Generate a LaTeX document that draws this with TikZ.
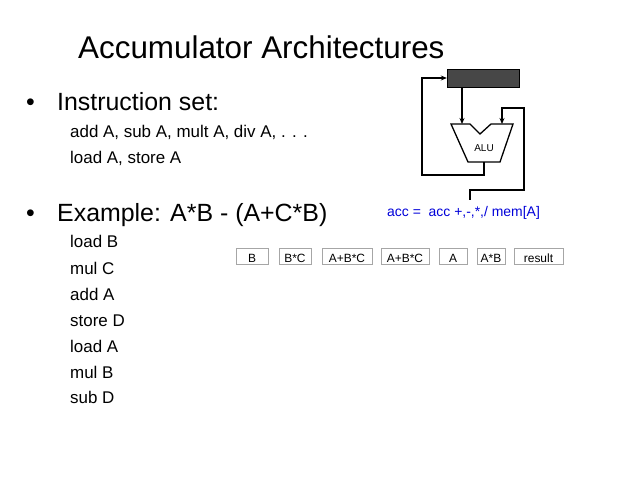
\documentclass[tikz,border=0pt]{standalone}
\usepackage{fontspec}
\setmainfont{Liberation Sans}
\usetikzlibrary{arrows.meta}
\begin{document}
\begin{tikzpicture}[x=1bp,y=-1bp,
  wire/.style={line width=1.3pt},
  arr/.style={wire,-{Stealth[length=6bp,width=5bp]}},
  sub/.style={anchor=base west,inner sep=0pt,font=\fontsize{17}{19}\selectfont},
  big/.style={anchor=base west,inner sep=0pt,font=\fontsize{25}{27}\selectfont}]
\useasboundingbox (0,0) rectangle (638,478);
\node[anchor=west,font=\fontsize{31.5}{33}\selectfont,inner sep=0pt] (title) at (78,47) {Accumulator Architectures};
\node[big] (d1) at (26,111) {•};
\node[big] (b1) at (57,111) {Instruction set:};
\node[sub] (s1) at (70,138) {add A, sub A, mult A, div A, . . .};
\node[sub] (s2) at (70,164) {load A, store A};
\node[big] (d2) at (26,222) {•};
\node[big] (b2) at (57,222) {Example: A*B - (A+C*B)};
\foreach \t/\y in {load B/248,mul C/274,add A/300,store D/326,load A/352,mul B/378,sub D/403}
  \node[sub] at (70,\y) {\t};
\node[anchor=west,inner sep=0pt,text=blue!85!black,font=\fontsize{14}{16}\selectfont] (acc) at (387,213) {acc =\ \ acc +,-,*,/ mem[A]};
% register
\node[draw,fill=black!72,minimum width=72bp,minimum height=18bp,inner sep=0pt] (reg) at (483,78) {};
% ALU
\draw[wire] (451,124) -- (470,124) -- (480,134) -- (491,124) -- (513,124) -- (500,162) -- (468,162) -- cycle;
\node[font=\fontsize{10}{11}\selectfont] (alu) at (484,148) {ALU};
\coordinate (ain1) at (462,124);
\coordinate (ain2) at (502,124);
\coordinate (aout) at (484,162);
\coordinate (mem) at (470,200);
\draw[arr] (reg.south -| ain1) -- (ain1);
\draw[arr] (mem) -- (470,190) -- (524,190) -- (524,108) -- (502,108) -- (ain2);
\draw[arr] (aout) -- (484,175) -- (422,175) -- (422,78) -- (reg.west);
% cells
\foreach \t/\a/\b in {B/236/268,B*C/279/311,A+B*C/322/372,A+B*C/381/429,A/439/467,A*B/477/505,result/514/563}
  \draw[gray!70,line width=0.5pt] (\a,248) rectangle (\b,264) node[midway,yshift=-2bp,font=\fontsize{12}{13}\selectfont,text=black] {\t};
\end{tikzpicture}
\end{document}
